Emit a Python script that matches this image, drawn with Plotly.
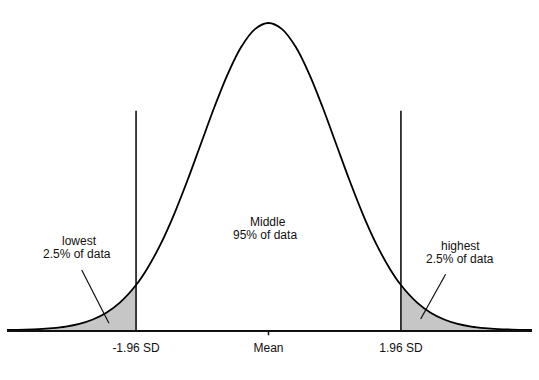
import plotly.graph_objects as go

# Data: standard normal curve (x in SD units, height = density)
x_sd = [-3.9, -3.6, -3.4, -3.2, -3.0, -2.8, -2.6, -2.4, -2.2, -1.96, -1.8, -1.6, -1.4, -1.2, -1.0,
        -0.8, -0.6, -0.4, -0.2, 0.0, 0.2, 0.4, 0.6, 0.8, 1.0, 1.2, 1.4, 1.6, 1.8, 1.96,
        2.2, 2.4, 2.6, 2.8, 3.0, 3.2, 3.4, 3.6, 3.9]
density = [0.0002, 0.0006, 0.0012, 0.0024, 0.0044, 0.0079, 0.0136, 0.0224, 0.0355, 0.0584,
           0.0790, 0.1109, 0.1497, 0.1942, 0.2420, 0.2897, 0.3332, 0.3683, 0.3910, 0.3989,
           0.3910, 0.3683, 0.3332, 0.2897, 0.2420, 0.1942, 0.1497, 0.1109, 0.0790, 0.0584,
           0.0355, 0.0224, 0.0136, 0.0079, 0.0044, 0.0024, 0.0012, 0.0006, 0.0002]
cut_points = [-1.96, 1.96]
cut_line_height = 0.285
tick_vals = [-1.96, 0.0, 1.96]
tick_labels = ["-1.96 SD", "Mean", "1.96 SD"]

FONT = "Liberation Sans, Arial, sans-serif"
FS = 12
fig = go.Figure()

# shaded tails
lo_idx = x_sd.index(cut_points[0])
hi_idx = x_sd.index(cut_points[1])
for xs, ys in [(x_sd[:lo_idx + 1], density[:lo_idx + 1]), (x_sd[hi_idx:], density[hi_idx:])]:
    fig.add_trace(go.Scatter(x=xs, y=ys, mode="lines", fill="tozeroy",
                             fillcolor="#c6c6c6", line=dict(width=0, shape="spline", color="#c6c6c6"),
                             hoverinfo="skip", showlegend=False))

# vertical cut lines
for c in cut_points:
    fig.add_trace(go.Scatter(x=[c, c], y=[0, cut_line_height], mode="lines",
                             line=dict(color="#111111", width=1.6), showlegend=False, hoverinfo="skip"))

# the curve
fig.add_trace(go.Scatter(x=x_sd, y=density, mode="lines",
                         line=dict(color="black", width=1.8, shape="spline"),
                         showlegend=False))

# text annotations
def txt(x, y, t):
    fig.add_annotation(x=x, y=y, text=t, showarrow=False, xanchor="center", yanchor="middle",
                       font=dict(family=FONT, size=FS, color="#111111"))

txt(-2.80, 0.1157, "lowest")
txt(-2.83, 0.0988, "2.5% of data")
txt(0.0, 0.1400, "Middle")
txt(-0.05, 0.1234, "95% of data")
txt(2.84, 0.1095, "highest")
txt(2.83, 0.0919, "2.5% of data")

# pointer lines
fig.add_shape(type="line", xref="x", yref="y", x0=-2.764, y0=0.0780, x1=-2.361, y1=0.0087,
              line=dict(color="#111111", width=1.2))
fig.add_shape(type="line", xref="x", yref="y", x0=2.622, y0=0.0724, x1=2.252, y1=0.0143,
              line=dict(color="#111111", width=1.2))
# tick mark at mean
fig.add_shape(type="line", xref="x", yref="paper", x0=0, x1=0, y0=0, y1=-0.016,
              line=dict(color="#111111", width=1.5))

fig.update_layout(
    width=539, height=380,
    margin=dict(l=7, r=7, t=0, b=50),
    paper_bgcolor="white", plot_bgcolor="white",
    xaxis=dict(range=[-3.87, 3.90], showgrid=False, zeroline=False, showline=True,
               linecolor="#111111", linewidth=2, tickvals=tick_vals, ticktext=tick_labels,
               ticks="", ticklabelstandoff=6,
               tickfont=dict(family=FONT, size=FS, color="#111111")),
    yaxis=dict(range=[0, 0.4288], visible=False),
    showlegend=False,
)

fig.write_html("out.html", config={"displayModeBar": False},
               post_script="document.body.style.margin='0';document.body.style.padding='0';")
